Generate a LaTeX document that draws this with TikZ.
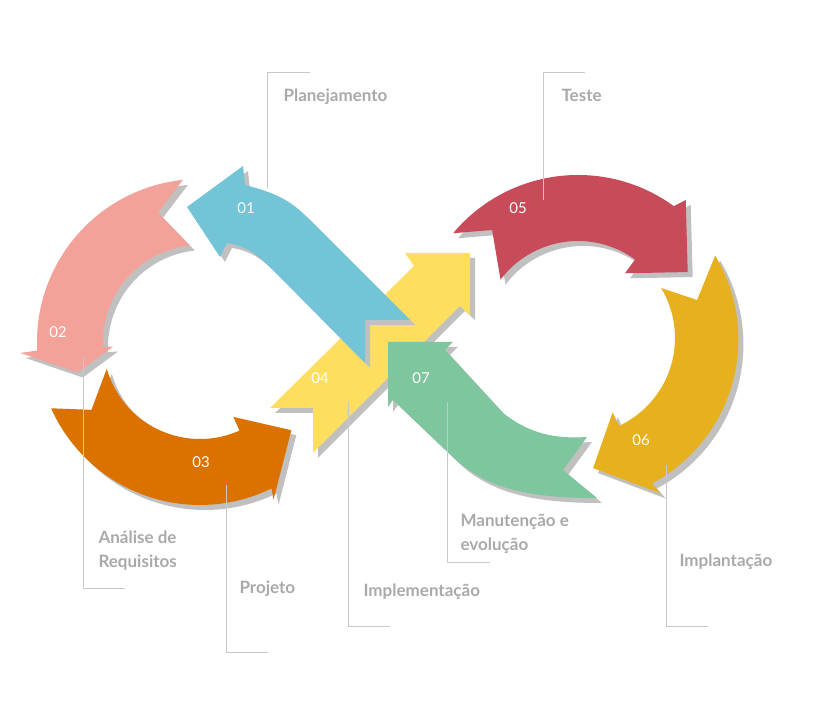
\documentclass[tikz,border=0pt]{standalone}
\usepackage{fontspec}
\setmainfont{Lato}
\begin{document}
\begin{tikzpicture}[x=1pt,y=1pt,
  lbl/.style={font=\fontsize{17}{20}\selectfont\bfseries, text=labc, anchor=base west, align=left},
  num/.style={font=\fontsize{15}{18}\selectfont, text=white},
  lead/.style={draw=leadc, line width=0.7pt}]
\definecolor{labc}{HTML}{A9A9A9}
\definecolor{leadc}{HTML}{C8C8C8}
\definecolor{shc}{HTML}{C0C0C0}
\definecolor{cpink}{HTML}{F3A29A}
\definecolor{cblue}{HTML}{74C4D7}
\definecolor{corange}{HTML}{DB7200}
\definecolor{cyellow}{HTML}{FEDE5F}
\definecolor{cred}{HTML}{C84B5A}
\definecolor{cgold}{HTML}{E7B01E}
\definecolor{cgreen}{HTML}{7EC69D}
\useasboundingbox (0,0) rectangle (839,704);
\def\pink{(96:163) arc[start angle=96,end angle=183,radius=163] -- (183.5:180) -- (194:126) -- (183:87) -- (183:97) arc[start angle=183,end angle=96,radius=97] -- (108:136) -- cycle}
\def\orng{(204:163) arc[start angle=204,end angle=296,radius=163] -- (295:174) -- (316:127) -- (294:82) -- (294:97) arc[start angle=294,end angle=196,radius=97] -- (212:128) -- cycle}
\def\redp{(140:163) arc[start angle=140,end angle=54,radius=163] -- (52:175) -- (31:128) -- (54:80) -- (54:97) arc[start angle=54,end angle=143,radius=97] -- (128.5:138) -- cycle}
\def\gold{(31:160) arc[start angle=31,end angle=-62,radius=163] -- (-62:176) -- (-83.4:131) -- (-65:82) -- (-65:97) arc[start angle=-65,end angle=31,radius=97] -- (17.7:125) -- cycle}
\def\yell{(270,296) -- (313,296) -- (313,251) -- (460,398) -- (470,389) -- (470,451) -- (405,451) -- (414,438) -- cycle}
\def\blue{(410,384) -- (365,384) -- (365,341) -- (273,434) .. controls (255,452) and (245,458) .. (227,461) -- (220,447) -- (187,497) -- (243,538) -- (245,519) .. controls (280,510) and (292,502) .. (310,484) -- cycle}
\def\gren{(388,362) -- (453,362) -- (445,354) -- (503,291) .. controls (530,270) and (555,265) .. (587,267) -- (563,234) -- (597,206) .. controls (540,206) and (490,212) .. (455,245) -- (393,304) -- (388,297) -- cycle}
\begin{scope}[shift={(200,362)}]
  \fill[shc,shift={(5,-5)}] \pink; \fill[cpink] \pink;
  \fill[shc,shift={(5,-5)}] \orng; \fill[corange] \orng;
\end{scope}
\begin{scope}[shift={(578,366)}]
  \fill[shc,shift={(5,-5)}] \redp; \fill[cred] \redp;
  \fill[shc,shift={(5,-5)}] \gold; \fill[cgold] \gold;
\end{scope}
\fill[shc,shift={(5,-5)}] \yell; \fill[cyellow] \yell;
\fill[shc,shift={(5,-5)}] \blue; \fill[cblue] \blue;
\fill[shc,shift={(5,-5)}] \gren; \fill[cgreen] \gren;
% numbers
\node[num] (n1) at (246,496) {01};
\node[num] (n2) at (58,372) {02};
\node[num] (n3) at (201,242) {03};
\node[num] (n4) at (320,326) {04};
\node[num] (n5) at (518,496) {05};
\node[num] (n6) at (641,264) {06};
\node[num] (n7) at (421,326) {07};
% leaders
\draw[lead] (267,516) -- (267,632) -- (310,632);
\draw[lead] (543,504) -- (543,632) -- (585,632);
\draw[lead] (83,347) -- (83,116) -- (125,116);
\draw[lead] (226,219) -- (226,52) -- (268,52);
\draw[lead] (348,302) -- (348,78) -- (390,78);
\draw[lead] (447,302) -- (447,142) -- (490,142);
\draw[lead] (666,239) -- (666,78) -- (708,78);
% labels
\node[lbl] (l1) at (280,602) {Planejamento};
\node[lbl] (l5) at (558,602) {Teste};
\node[lbl] (l2) at (95,160) {Análise de};
\node[lbl] (l2b) at (95,136) {Requisitos};
\node[lbl] (l3) at (236,110) {Projeto};
\node[lbl] (l4) at (360,107) {Implementação};
\node[lbl] (l7) at (457,177) {Manutenção e};
\node[lbl] (l7b) at (457,153) {evolução};
\node[lbl] (l6) at (676,137) {Implantação};
\end{tikzpicture}
\end{document}
